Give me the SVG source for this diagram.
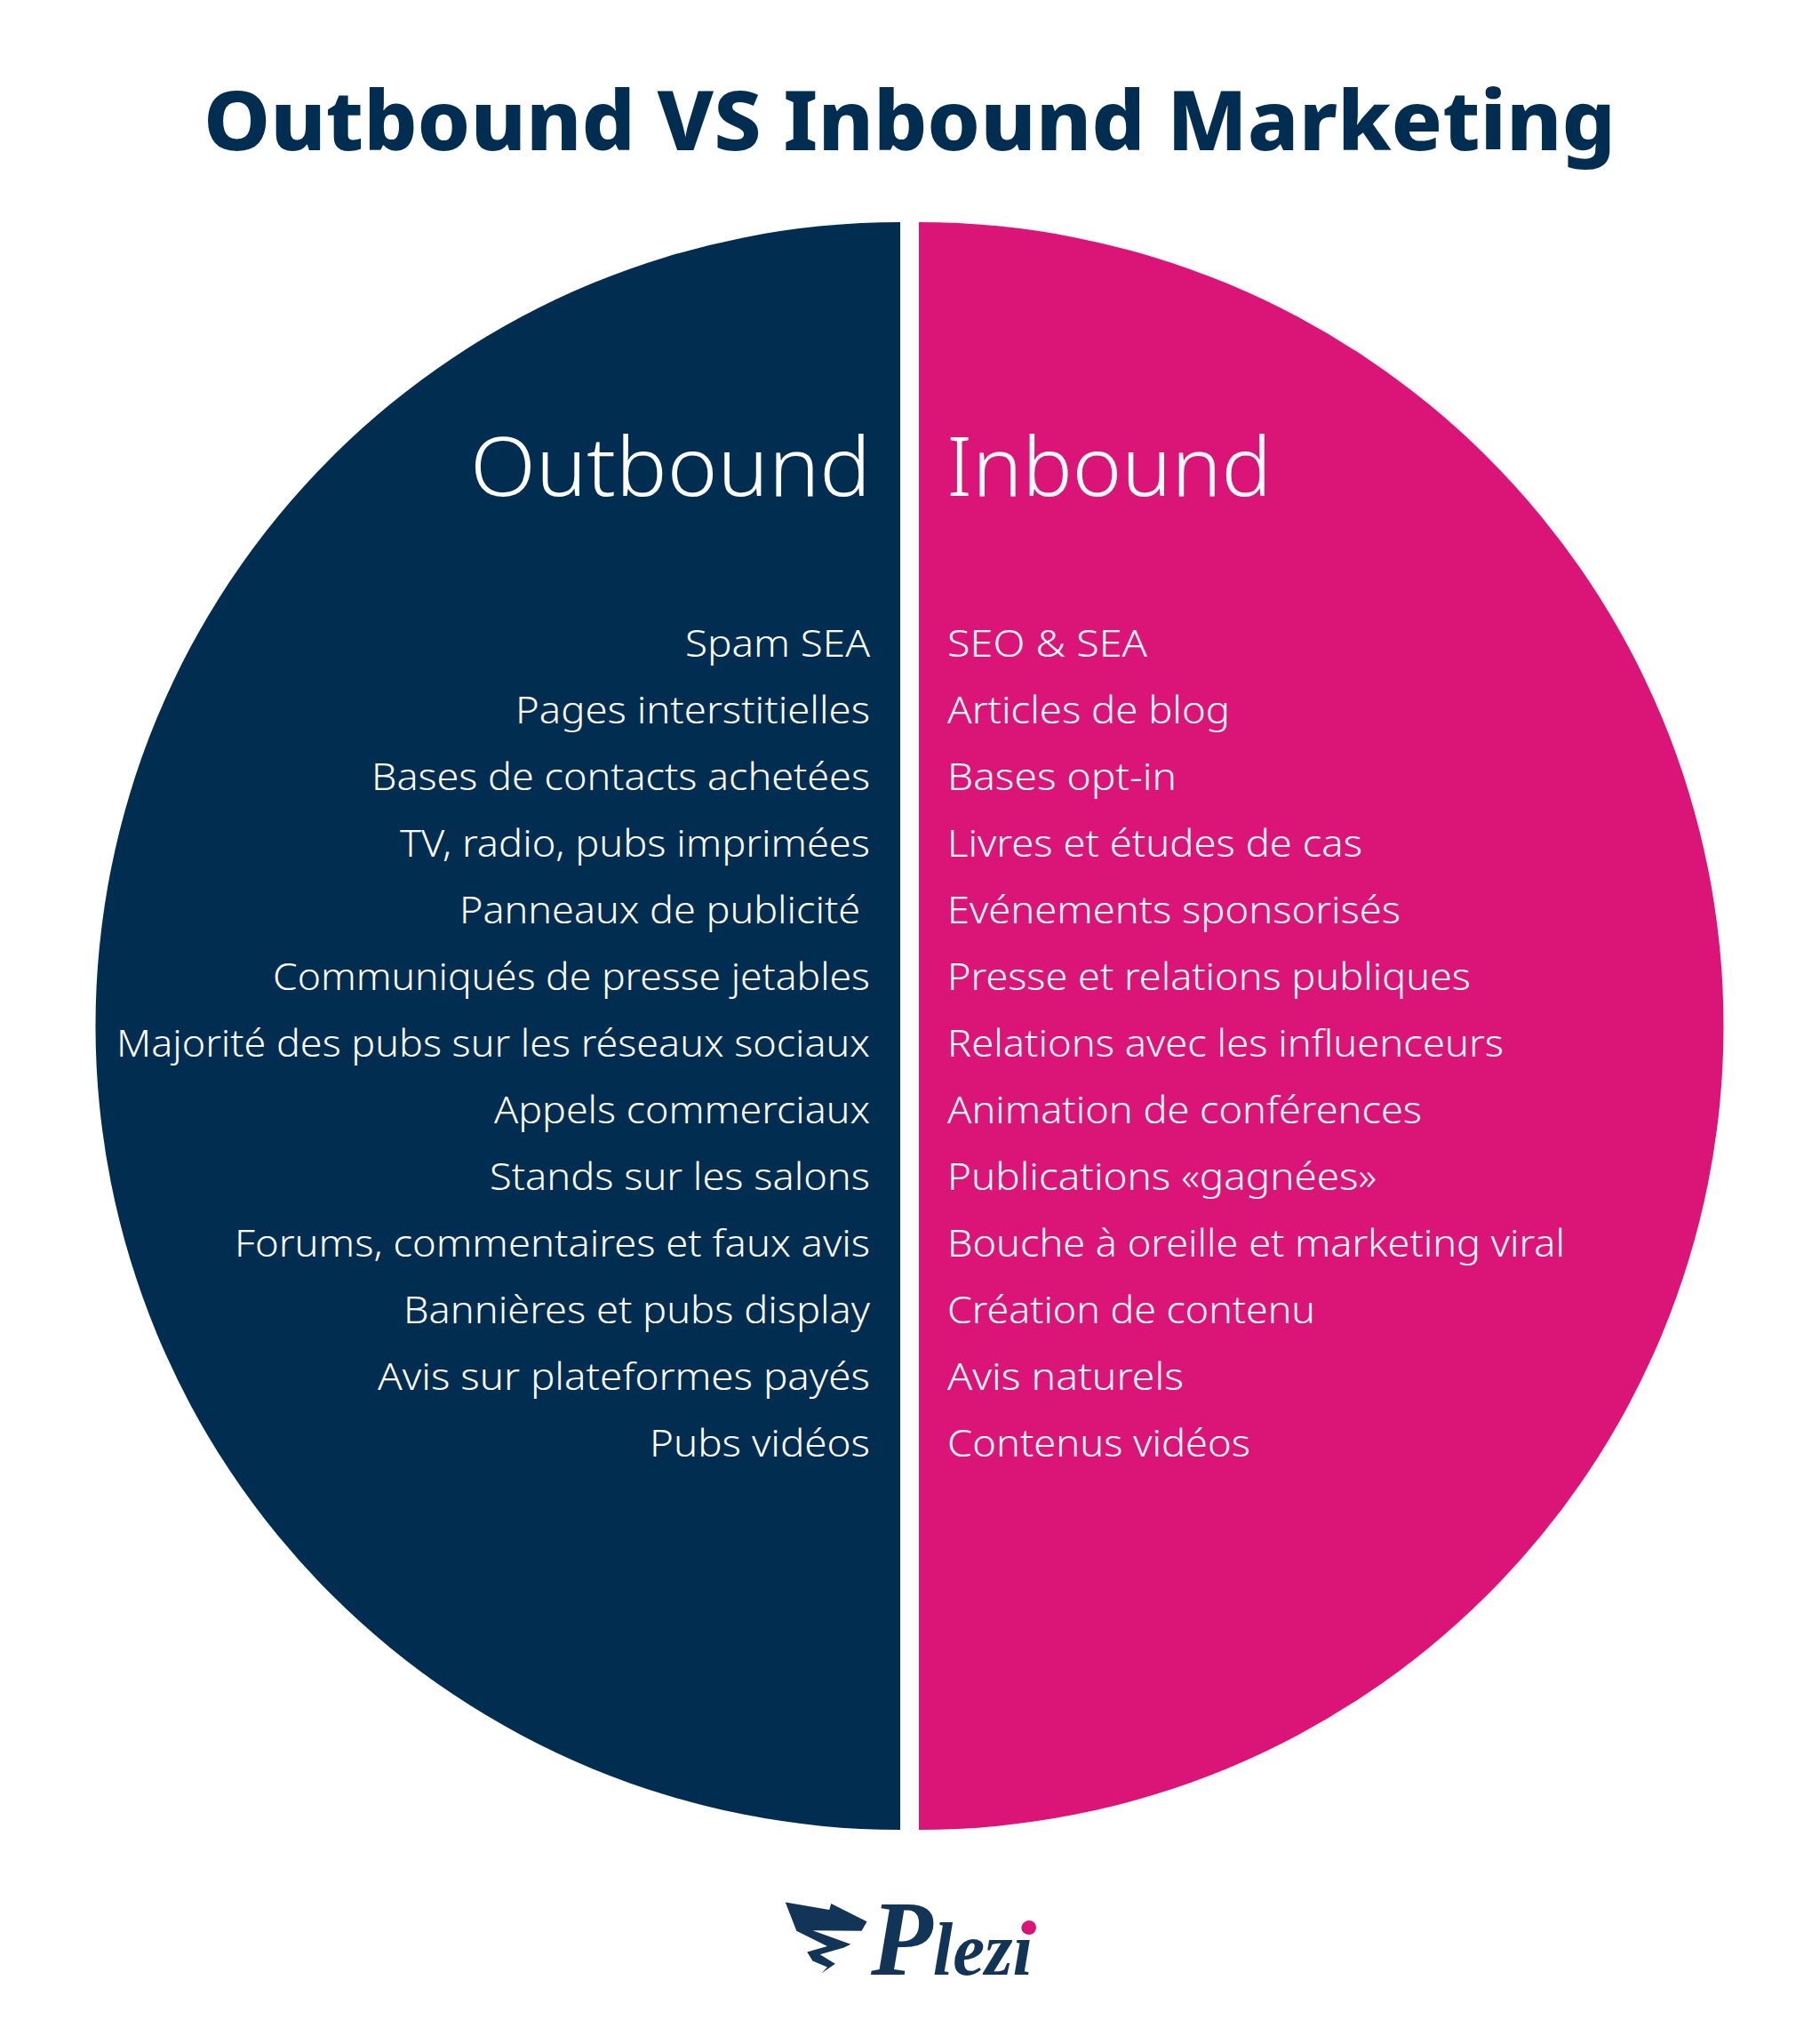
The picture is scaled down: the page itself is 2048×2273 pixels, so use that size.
<svg xmlns="http://www.w3.org/2000/svg" width="2048" height="2273" viewBox="0 0 2048 2273">
<style>
text{font-family:"Noto Sans","Open Sans","Liberation Sans",sans-serif;fill:#fff}
.t{font-size:92px;font-weight:800;fill:#012d50}
.h{font-size:92px;font-weight:350}
.i{font-size:42px;font-weight:350}
.l{text-anchor:end}
.logo{fill:#123557}
</style>
<rect width="2048" height="2273" fill="#fff"/>
<text id="title" class="t" x="229" y="169" textLength="1589" lengthAdjust="spacingAndGlyphs">Outbound VS Inbound Marketing</text>
<g id="outbound">
<path d="M1013 250A905 904 0 0 0 1013 2059Z" fill="#012d50"/>
<text class="h l" x="980" y="558" textLength="451" lengthAdjust="spacingAndGlyphs">Outbound</text>
<text class="i l" x="979" y="738.5" textLength="208" lengthAdjust="spacingAndGlyphs">Spam SEA</text>
<text class="i l" x="979" y="813.5" textLength="399" lengthAdjust="spacingAndGlyphs">Pages interstitielles</text>
<text class="i l" x="979" y="888.5" textLength="561" lengthAdjust="spacingAndGlyphs">Bases de contacts achetées</text>
<text class="i l" x="979" y="963.5" textLength="529" lengthAdjust="spacingAndGlyphs">TV, radio, pubs imprimées</text>
<text class="i l" x="968" y="1038.5" textLength="451" lengthAdjust="spacingAndGlyphs">Panneaux de publicité</text>
<text class="i l" x="979" y="1113.5" textLength="672" lengthAdjust="spacingAndGlyphs">Communiqués de presse jetables</text>
<text class="i l" x="979" y="1188.5" textLength="848" lengthAdjust="spacingAndGlyphs">Majorité des pubs sur les réseaux sociaux</text>
<text class="i l" x="979" y="1263.5" textLength="423" lengthAdjust="spacingAndGlyphs">Appels commerciaux</text>
<text class="i l" x="979" y="1338.5" textLength="428" lengthAdjust="spacingAndGlyphs">Stands sur les salons</text>
<text class="i l" x="979" y="1413.5" textLength="715" lengthAdjust="spacingAndGlyphs">Forums, commentaires et faux avis</text>
<text class="i l" x="979" y="1488.5" textLength="525" lengthAdjust="spacingAndGlyphs">Bannières et pubs display</text>
<text class="i l" x="979" y="1563.5" textLength="554" lengthAdjust="spacingAndGlyphs">Avis sur plateformes payés</text>
<text class="i l" x="979" y="1638.5" textLength="248" lengthAdjust="spacingAndGlyphs">Pubs vidéos</text>
</g>
<g id="inbound">
<path d="M1034 250A905 904 0 0 1 1034 2059Z" fill="#db1577"/>
<text class="h" x="1065" y="558" textLength="366" lengthAdjust="spacingAndGlyphs">Inbound</text>
<text class="i" x="1066" y="738.5" textLength="225" lengthAdjust="spacingAndGlyphs">SEO &amp; SEA</text>
<text class="i" x="1066" y="813.5" textLength="318" lengthAdjust="spacingAndGlyphs">Articles de blog</text>
<text class="i" x="1066" y="888.5" textLength="258" lengthAdjust="spacingAndGlyphs">Bases opt-in</text>
<text class="i" x="1066" y="963.5" textLength="467" lengthAdjust="spacingAndGlyphs">Livres et études de cas</text>
<text class="i" x="1066" y="1038.5" textLength="510" lengthAdjust="spacingAndGlyphs">Evénements sponsorisés</text>
<text class="i" x="1066" y="1113.5" textLength="589" lengthAdjust="spacingAndGlyphs">Presse et relations publiques</text>
<text class="i" x="1066" y="1188.5" textLength="626" lengthAdjust="spacingAndGlyphs">Relations avec les influenceurs</text>
<text class="i" x="1066" y="1263.5" textLength="534" lengthAdjust="spacingAndGlyphs">Animation de conférences</text>
<text class="i" x="1066" y="1338.5" textLength="483" lengthAdjust="spacingAndGlyphs">Publications «gagnées»</text>
<text class="i" x="1066" y="1413.5" textLength="695" lengthAdjust="spacingAndGlyphs">Bouche à oreille et marketing viral</text>
<text class="i" x="1066" y="1488.5" textLength="414" lengthAdjust="spacingAndGlyphs">Création de contenu</text>
<text class="i" x="1066" y="1563.5" textLength="266" lengthAdjust="spacingAndGlyphs">Avis naturels</text>
<text class="i" x="1066" y="1638.5" textLength="341" lengthAdjust="spacingAndGlyphs">Contenus vidéos</text>
</g>
<g id="logo">
<path class="logo" transform="translate(860 2120) scale(.33)" d="M72 62L222 88L228 67L350 128L332 160L165 158L295 205L272 217L190 240L242 272L196 304L215 283L165 262L146 232L215 212L110 160Z"/>
<text x="980" y="2222" style="font-family:'Liberation Serif',serif;font-style:italic;font-weight:700;font-size:85px;fill:#123557" textLength="182" lengthAdjust="spacingAndGlyphs"><tspan font-size="120">P</tspan>lezi</text>
<circle cx="1158" cy="2169" r="8" fill="#db1577"/>
</g>
</svg>
